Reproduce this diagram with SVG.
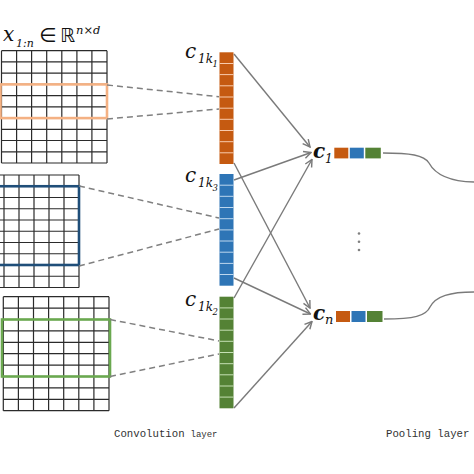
<svg xmlns="http://www.w3.org/2000/svg" width="474" height="474" viewBox="0 0 474 474">
<style>
.grid{fill:none;stroke:#2b2b2b;stroke-width:1.2}
.dash{fill:none;stroke:#808080;stroke-width:1.5;stroke-dasharray:6 4}
.arr{fill:none;stroke:#7a7a7a;stroke-width:1.4;marker-end:url(#ah)}
.curve{fill:none;stroke:#7a7a7a;stroke-width:1.4}
.math{font-family:"DejaVu Serif","Liberation Serif",serif;font-style:italic;fill:#111}
.mono{font-family:"Liberation Mono","DejaVu Sans Mono",monospace;fill:#333}
</style>
<defs>
<marker id="ah" viewBox="0 0 10 10" refX="9" refY="5" markerWidth="9" markerHeight="9" markerUnits="userSpaceOnUse" orient="auto">
<path d="M1,1 L9,5 L1,9" fill="none" stroke="#7a7a7a" stroke-width="1.6"/>
</marker>
</defs>
<rect width="474" height="474" fill="#fff"/>

<g id="title">
<text class="math" x="3" y="41" font-size="20">x</text>
<text class="math" x="16" y="47" font-size="11">1:n</text>
<text x="39" y="42" font-size="20" font-family="DejaVu Sans,sans-serif" fill="#111">∈</text>
<text x="60" y="42" font-size="19" font-family="DejaVu Sans,sans-serif" fill="#111">ℝ</text>
<text class="math" x="76" y="34" font-size="11.5">n×d</text>
</g>

<g id="grid1">
<path class="grid" d="M1.5,50.7V163M16.6,50.7V163M31.6,50.7V163M46.7,50.7V163M61.8,50.7V163M76.9,50.7V163M91.9,50.7V163M107,50.7V163M1.5,50.7H107M1.5,61.9H107M1.5,73.2H107M1.5,84.4H107M1.5,95.6H107M1.5,106.9H107M1.5,118.1H107M1.5,129.3H107M1.5,140.5H107M1.5,151.8H107M1.5,163H107"/>
<rect x="0.5" y="84.4" width="106.5" height="33.7" fill="none" stroke="#f4b183" stroke-width="2.6"/>
</g>

<g id="grid2">
<path class="grid" d="M-26,175V287.5M-11,175V287.5M4,175V287.5M19,175V287.5M34,175V287.5M49,175V287.5M64,175V287.5M79,175V287.5M-26,175H79M-26,186.25H79M-26,197.5H79M-26,208.75H79M-26,220H79M-26,231.25H79M-26,242.5H79M-26,253.75H79M-26,265H79M-26,276.25H79M-26,287.5H79"/>
<rect x="-5" y="186.25" width="84" height="78.75" fill="none" stroke="#1f4e79" stroke-width="2.6"/>
</g>

<g id="grid3">
<path class="grid" d="M3.3,296.7V410.7M18.4,296.7V410.7M33.5,296.7V410.7M48.6,296.7V410.7M63.7,296.7V410.7M78.8,296.7V410.7M93.9,296.7V410.7M109,296.7V410.7M3.3,296.7H109M3.3,308.1H109M3.3,319.5H109M3.3,330.9H109M3.3,342.3H109M3.3,353.7H109M3.3,365.1H109M3.3,376.5H109M3.3,387.9H109M3.3,399.3H109M3.3,410.7H109"/>
<rect x="2" y="319.5" width="108" height="57" fill="none" stroke="#6aa84f" stroke-width="2.6"/>
</g>

<g id="bar1">
<rect x="219.5" y="52.3" width="14" height="111.7" fill="#c55a11"/>
<path d="M219.5,63.5h14M219.5,74.6h14M219.5,85.8h14M219.5,97h14M219.5,108.2h14M219.5,119.3h14M219.5,130.5h14M219.5,141.7h14M219.5,152.8h14" stroke="#f8cbad" stroke-width="1"/>
<text class="math" x="185" y="58" font-size="20">c</text>
<text class="math" x="198" y="63" font-size="12">1k</text>
<text class="math" x="212.5" y="66.5" font-size="8.5">1</text>
</g>

<g id="bar2">
<rect x="219.5" y="174" width="14" height="111.7" fill="#2e75b6"/>
<path d="M219.5,185.2h14M219.5,196.3h14M219.5,207.5h14M219.5,218.7h14M219.5,229.9h14M219.5,241h14M219.5,252.2h14M219.5,263.4h14M219.5,274.5h14" stroke="#bdd7ee" stroke-width="1"/>
<text class="math" x="185" y="182" font-size="20">c</text>
<text class="math" x="198" y="187" font-size="12">1k</text>
<text class="math" x="212.5" y="190.5" font-size="8.5">3</text>
</g>

<g id="bar3">
<rect x="219.5" y="296.7" width="14" height="111.6" fill="#548235"/>
<path d="M219.5,307.9h14M219.5,319h14M219.5,330.2h14M219.5,341.3h14M219.5,352.5h14M219.5,363.7h14M219.5,374.8h14M219.5,386h14M219.5,397.1h14" stroke="#c5e0b4" stroke-width="1"/>
<text class="math" x="185" y="306" font-size="20">c</text>
<text class="math" x="198" y="311" font-size="12">1k</text>
<text class="math" x="212.5" y="314.5" font-size="8.5">2</text>
</g>

<g id="c1">
<text class="math" x="313" y="158" font-size="20" font-weight="bold">c</text>
<text class="math" x="325" y="162.5" font-size="12">1</text>
<rect x="334.3" y="147.7" width="14" height="10.7" fill="#c55a11"/>
<rect x="349.8" y="147.7" width="14" height="10.7" fill="#2e75b6"/>
<rect x="365.3" y="147.7" width="15.5" height="10.7" fill="#548235"/>
</g>

<g id="cn">
<text class="math" x="313" y="320" font-size="20" font-weight="bold">c</text>
<text class="math" x="325" y="324" font-size="13">n</text>
<rect x="336" y="311" width="14" height="11" fill="#c55a11"/>
<rect x="351.5" y="311" width="14" height="11" fill="#2e75b6"/>
<rect x="367" y="311" width="15.5" height="11" fill="#548235"/>
</g>

<g id="dots" fill="#808080">
<circle cx="359" cy="233.5" r="1.3"/>
<circle cx="359" cy="241.8" r="1.3"/>
<circle cx="359" cy="250" r="1.3"/>
</g>

<g id="connectors">
<path class="dash" d="M107,85L219,96.7M107,119L219,109M79,186L219,218M79,266L219,229M110,319.5L219,341M110,376.5L219,354"/>
<path class="arr" d="M234,54L310,147"/>
<path class="arr" d="M234,163L310,308"/>
<path class="arr" d="M234,180L311,152.5"/>
<path class="arr" d="M234,278L310.5,314"/>
<path class="arr" d="M234,298L312,159.5"/>
<path class="arr" d="M234,408L312,321.5"/>
<path class="curve" d="M383,153C410,153 424,155 429,163C435,174 450,181.5 474,182"/>
<path class="curve" d="M384,319C414,319 426,316 430,307C436,296 450,292 474,292"/>
</g>

<g id="labels">
<text class="mono" x="114" y="437" font-size="10.7">Convolution</text>
<text class="mono" x="190.5" y="437" font-size="9">layer</text>
<text class="mono" x="386" y="437" font-size="10.7">Pooling layer</text>
</g>
</svg>
